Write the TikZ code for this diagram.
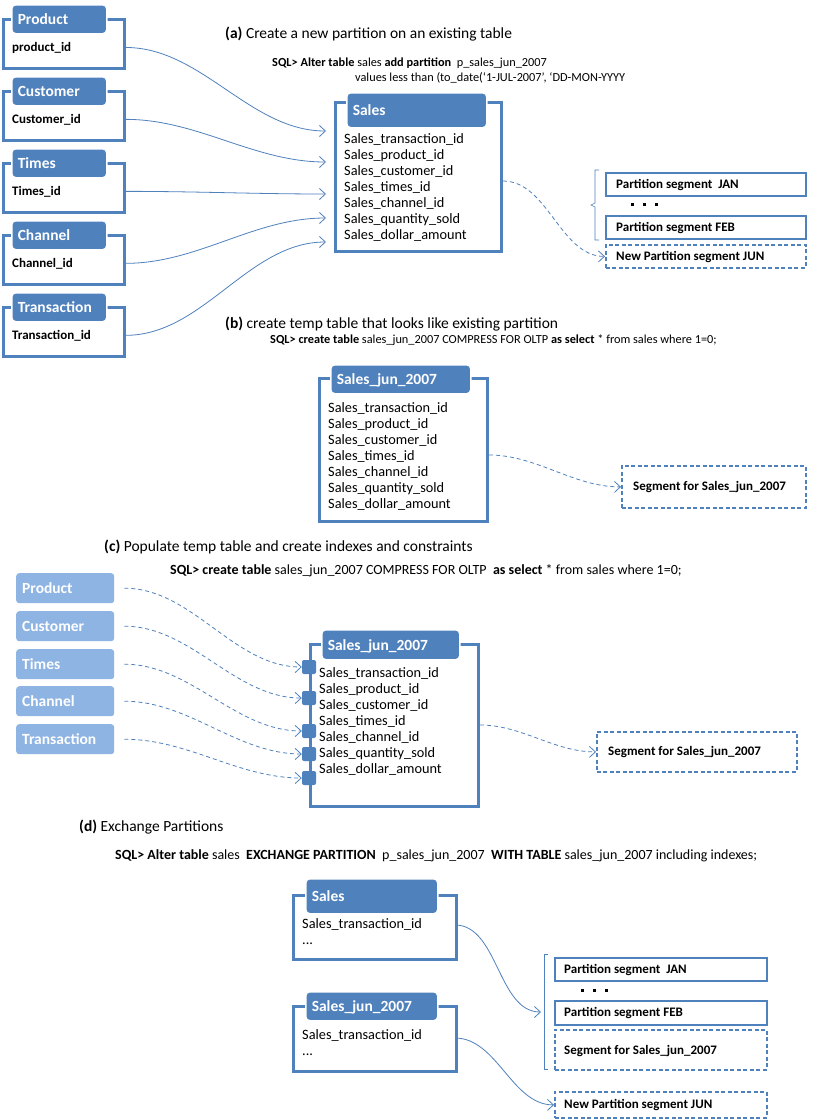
\documentclass[tikz,border=0pt]{standalone}
\usepackage{fontspec}
\setmainfont{Carlito}
\usetikzlibrary{arrows.meta}
\definecolor{bl}{HTML}{4F81BD}
\definecolor{lb}{HTML}{8EB4E3}
\begin{document}
\begin{tikzpicture}[x=1pt,y=-1pt,
  tbl/.style={draw=bl,line width=2.6pt,rectangle,anchor=north west,inner sep=0},
  hdr/.style={fill=bl,draw=white,line width=1.5pt,rounded corners=4pt,anchor=north west,inner sep=0,text=white,font=\fontsize{15.5}{15.5}\selectfont\bfseries,align=left,text depth=0pt},
  lhdr/.style={fill=lb,rounded corners=3pt,anchor=north west,inner sep=0,text=white,font=\fontsize{15.5}{15.5}\selectfont\bfseries,align=left},
  row/.style={anchor=base west,inner sep=0,font=\fontsize{14.3}{14}\selectfont},
  brow/.style={anchor=base west,inner sep=0,font=\fontsize{13.5}{14}\selectfont\bfseries},
  pbrow/.style={brow,font=\fontsize{13}{13}\selectfont\bfseries},
  seg/.style={draw=bl,line width=1.8pt,rectangle,anchor=north west,inner sep=0},
  dseg/.style={seg,dash pattern=on 4pt off 2.5pt},
  arr/.style={draw=bl,line width=0.8pt,-{Straight Barb[length=6pt,width=11pt]}},
  darr/.style={arr,dash pattern=on 4pt off 3pt},
  brk/.style={draw=bl,line width=0.6pt},
  ttl/.style={anchor=base west,inner sep=0,font=\fontsize{15.5}{16}\selectfont},
  sqla/.style={anchor=base west,inner sep=0,font=\fontsize{12.3}{13}\selectfont},
  sqlb/.style={anchor=base west,inner sep=0,font=\fontsize{14}{14}\selectfont},
  port/.style={fill=bl,rounded corners=2pt,minimum size=14pt,inner sep=0},
  dots/.style={fill=black,minimum size=3pt,inner sep=0}]
\useasboundingbox (0,0) rectangle (824,1120);
\fill[white] (0,0) rectangle (824,1120);

% ---------- (a) entities
\foreach \n/\t/\f/\y in {p/Product/product\_id/0,c/Customer/Customer\_id/72,t/Times/Times\_id/144,ch/Channel/Channel\_id/216,tr/Transaction/Transaction\_id/288}{
  \node[tbl,minimum width=121pt,minimum height=49pt] (e\n) at (2,18+\y) {};
  \node[hdr,minimum width=93pt,minimum height=29pt,text width=83pt,inner xsep=6pt] (h\n) at (11,4+\y) {\t};
  \node[brow,font=\fontsize{13}{13}\selectfont\bfseries] (f\n) at (12,51+\y) {\f};
}

\node[ttl] (ta) at (225,38) {\textbf{(a)} Create a new partition on an existing table};
\node[sqla] (sa1) at (272,66) {\textbf{SQL> Alter table} sales \textbf{add partition}\ \ p\_sales\_jun\_2007};
\node[sqla] (sa2) at (355,81) {values less than (to\_date(‘1-JUL-2007’, ‘DD-MON-YYYY};

\node[tbl,minimum width=166pt,minimum height=149pt] (sa) at (334,101) {};
\node[hdr,minimum width=140pt,minimum height=35pt,text width=128pt,inner xsep=6pt] (hsa) at (346,92) {Sales};
\foreach \r [count=\i from 0] in {Sales\_transaction\_id,Sales\_product\_id,Sales\_customer\_id,Sales\_times\_id,Sales\_channel\_id,Sales\_quantity\_sold,Sales\_dollar\_amount}{
  \node[row] (ra\i) at (344,143+16*\i) {\r};
}
\coordinate (pa1) at (326,131); \coordinate (pa2) at (326,162); \coordinate (pa3) at (326,194);
\coordinate (pa4) at (326,218); \coordinate (pa5) at (326,242);
\draw[arr] (ep.east |- fp.center) to[out=0,in=180,looseness=0.9] (pa1);
\draw[arr] (ec.east |- fc.center) to[out=0,in=180,looseness=0.9] (pa2);
\draw[arr] (et.east |- ft.center) to[out=0,in=180,looseness=0.9] (pa3);
\draw[arr] (ech.east |- fch.center) to[out=0,in=180,looseness=0.9] (pa4);
\draw[arr] (etr.east |- ftr.center) to[out=0,in=180,looseness=0.9] (pa5);

\node[seg,minimum width=200pt,minimum height=23pt] (jan1) at (605,172) {};
\node[pbrow] at (616,188) {Partition segment\ \ JAN};
\node[dots] (d1a) at (632,204) {}; \node[dots] (d1b) at (644,204) {}; \node[dots] (d1c) at (656,204) {};
\node[seg,minimum width=200pt,minimum height=23pt] (feb1) at (605,215) {};
\node[pbrow] at (616,231) {Partition segment FEB};
\node[dseg,minimum width=200pt,minimum height=23pt] (jun1) at (605,244) {};
\node[pbrow] at (616,260) {New Partition segment JUN};
\draw[brk] (599,170) -- (595,170) -- (595,203) -- (591,205) -- (595,207) -- (595,240) -- (599,240);
\coordinate (qa) at (503,181);
\draw[darr] (qa) to[out=0,in=180,looseness=0.9] (jun1.west);

% ---------- (b)
\node[ttl] (tb) at (225,328) {\textbf{(b)} create temp table that looks like existing partition};
\node[sqla] (sb) at (270,343) {\textbf{SQL> create table} sales\_jun\_2007 COMPRESS FOR OLTP \textbf{as select} *\ from sales where 1=0;};
\node[tbl,minimum width=168pt,minimum height=143pt] (sb) at (318,377) {};
\node[hdr,minimum width=140pt,minimum height=29pt,text width=128pt,inner xsep=6pt] (hsb) at (330,364) {Sales\_jun\_2007};
\foreach \r [count=\i from 0] in {Sales\_transaction\_id,Sales\_product\_id,Sales\_customer\_id,Sales\_times\_id,Sales\_channel\_id,Sales\_quantity\_sold,Sales\_dollar\_amount}{
  \node[row] (rb\i) at (328,412+16*\i) {\r};
}
\node[dseg,minimum width=184pt,minimum height=42pt] (segb) at (621,465) {};
\node[pbrow] at (633,490) {Segment for Sales\_jun\_2007};
\coordinate (qb) at (489,455);
\draw[darr] (qb) to[out=0,in=180,looseness=0.9] (segb.west);

% ---------- (c)
\node[ttl] (tc) at (104,551) {\textbf{(c)} Populate temp table and create indexes and constraints};
\node[sqlb] (sc) at (170,574) {\textbf{SQL> create table} sales\_jun\_2007 COMPRESS FOR OLTP\ \ \textbf{as select} * from sales where 1=0;};
\foreach \n/\t/\y in {p/Product/573,c/Customer/611,t/Times/649,ch/Channel/686,tr/Transaction/724}{
  \node[lhdr,minimum width=92pt,minimum height=30pt,text width=86pt,inner xsep=6pt] (l\n) at (16,\y) {\t};
}
\node[tbl,minimum width=168pt,minimum height=162pt] (sc) at (309,643) {};
\node[hdr,minimum width=138pt,minimum height=30pt,text width=126pt,inner xsep=6pt] (hsc) at (321,629) {Sales\_jun\_2007};
\foreach \r [count=\i from 0] in {Sales\_transaction\_id,Sales\_product\_id,Sales\_customer\_id,Sales\_times\_id,Sales\_channel\_id,Sales\_quantity\_sold,Sales\_dollar\_amount}{
  \node[row] (rc\i) at (319,677+16*\i) {\r};
}
\node[port] (k1) at (309,667) {}; \node[port] (k2) at (309,698) {}; \node[port] (k3) at (309,731) {};
\node[port] (k4) at (309,754) {}; \node[port] (k5) at (309,778) {};
\draw[darr] (lp.east) ++(10,0) to[out=0,in=180,looseness=0.9] (k1.west);
\draw[darr] (lc.east) ++(10,0) to[out=0,in=180,looseness=0.9] (k2.west);
\draw[darr] (lt.east) ++(10,0) to[out=0,in=180,looseness=0.9] (k3.west);
\draw[darr] (lch.east) ++(10,0) to[out=0,in=180,looseness=0.9] (k4.west);
\draw[darr] (ltr.east) ++(10,0) to[out=0,in=180,looseness=0.9] (k5.west);
\node[dseg,minimum width=200pt,minimum height=40pt] (segc) at (596,731) {};
\node[pbrow] at (608,755) {Segment for Sales\_jun\_2007};
\coordinate (qc) at (480,725);
\draw[darr] (qc) to[out=0,in=180,looseness=0.9] (segc.west);

% ---------- (d)
\node[ttl] (td) at (79,831) {\textbf{(d)} Exchange Partitions};
\node[sqlb] (sd) at (115,859) {\textbf{SQL> Alter table} sales\ \ \textbf{EXCHANGE PARTITION}\ \ p\_sales\_jun\_2007\ \ \textbf{WITH TABLE} sales\_jun\_2007 including indexes;};
\node[tbl,minimum width=163pt,minimum height=64pt] (sd1) at (292,894) {};
\node[hdr,minimum width=132pt,minimum height=35pt,text width=120pt,inner xsep=6pt] (hsd1) at (305,878) {Sales};
\node[row] (rd1) at (302,928) {Sales\_transaction\_id};
\node[row] (rd2) at (302,944) {...};
\node[tbl,minimum width=163pt,minimum height=65pt] (sd2) at (292,1005) {};
\node[hdr,minimum width=132pt,minimum height=29pt,text width=120pt,inner xsep=6pt] (hsd2) at (305,991) {Sales\_jun\_2007};
\node[row] (rd3) at (302,1039) {Sales\_transaction\_id};
\node[row] (rd4) at (302,1055) {...};

\node[seg,minimum width=212pt,minimum height=23pt] (jan2) at (554,957) {};
\node[pbrow] at (564,973) {Partition segment\ \ JAN};
\node[dots] at (582,990) {}; \node[dots] at (594,990) {}; \node[dots] at (606,990) {};
\node[seg,minimum width=212pt,minimum height=24pt] (feb2) at (554,1000) {};
\node[pbrow] at (564,1016) {Partition segment FEB};
\node[dseg,minimum width=212pt,minimum height=40pt] (segd) at (554,1029) {};
\node[pbrow] at (564,1054) {Segment for Sales\_jun\_2007};
\node[dseg,minimum width=212pt,minimum height=26pt] (jun2) at (554,1091) {};
\node[pbrow] at (564,1108) {New Partition segment JUN};
\draw[brk] (548,954) -- (544,954) -- (544,1069) -- (548,1069);
\coordinate (qd1) at (455,925); \coordinate (qd2) at (541,1012);
\coordinate (qd3) at (455,1038);
\draw[arr] (qd1) to[out=0,in=180,looseness=0.9] (qd2);
\draw[arr] (qd3) to[out=0,in=180,looseness=0.9] (jun2.west);
\end{tikzpicture}
\end{document}
